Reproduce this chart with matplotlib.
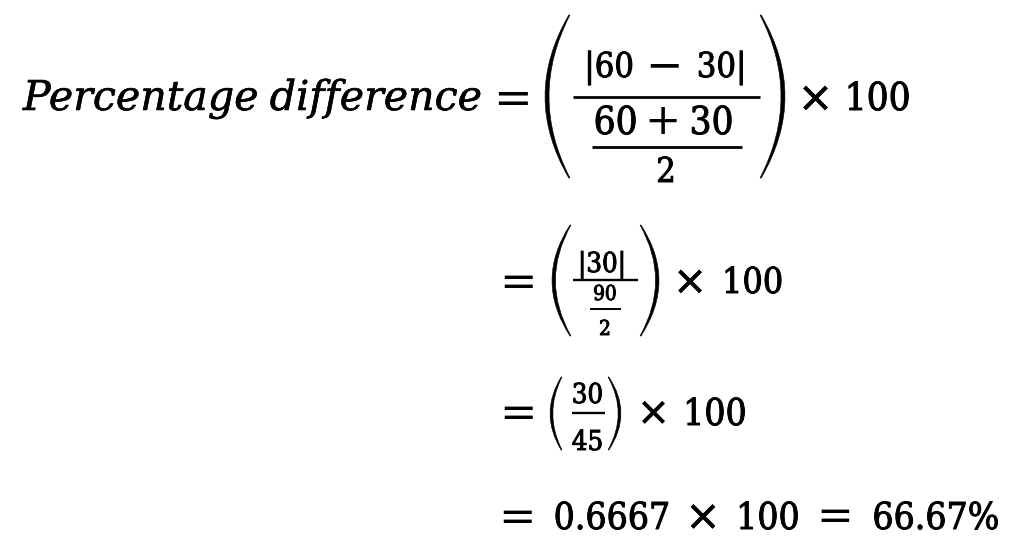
import matplotlib
matplotlib.use("Agg")
import matplotlib.pyplot as plt
from matplotlib.path import Path
from matplotlib.patches import PathPatch
from matplotlib import patheffects as pe

# ---- data (the worked example) ----
value_a = 60
value_b = 30
label_words = ["Percentage", "difference"]
abs_diff = "|30|"
sum_str = "90"
half_str = "45"
diff_str = "30"
ratio_str = "0.6667"
factor_str = "100"
result_str = "66.67%"

W, H = 1024, 557
FONT = "DejaVu Serif"
OPFONT = "DejaVu Sans"
fig = plt.figure(figsize=(W / 100, H / 100), dpi=100)
ax = fig.add_axes([0, 0, 1, 1])
ax.set_xlim(0, W)
ax.set_ylim(H, 0)
ax.axis("off")


def fs(px):
    """font size (pt) giving a digit height of px pixels"""
    return px / 0.729 * 0.72


def txt(x, y, s, h, ha="center", style="normal", stroke=0.7, stretch="condensed"):
    ax.text(x, y, s, fontsize=fs(h), family=FONT, ha=ha, va="baseline",
            style=style, color="black", fontstretch=stretch,
            path_effects=[pe.withStroke(linewidth=stroke, foreground="black")])


INK = {"=": 0.625, "\u2212": 0.625, "+": 0.625, "\u00d7": 0.59}


def op(x, yc, s, w, stroke=0.0):
    """operator sign centred at (x, yc), ink width w pixels"""
    em = w / INK[s]
    effects = [pe.withStroke(linewidth=stroke, foreground="black")] if stroke else []
    ax.text(x, yc + 0.335 * em, s, fontsize=em * 0.72, family=OPFONT,
            ha="center", va="baseline", color="black", path_effects=effects)


def bar(x0, x1, y, lw):
    ax.plot([x0, x1], [y, y], color="black", lw=lw, solid_capstyle="butt")


def paren(xl, xr, top, bot, t, e, side):
    ym = (top + bot) / 2
    if side == "L":
        oe, om = xr - e, xl
        ie, im = xr, xl + t
    else:
        oe, om = xl + e, xr
        ie, im = xl, xr - t
    co = 2 * om - oe
    ci = 2 * im - ie
    verts = [(oe, top), (co, ym), (oe, bot), (ie, bot), (ci, ym), (ie, top), (oe, top)]
    codes = [Path.MOVETO, Path.CURVE3, Path.CURVE3, Path.LINETO,
             Path.CURVE3, Path.CURVE3, Path.CLOSEPOLY]
    ax.add_patch(PathPatch(Path(verts, codes), facecolor="black", edgecolor="black", lw=0.4))


# ---- line 1 ----
txt(23, 110, label_words[0], 30, ha="left", style="italic", stroke=0.4, stretch="normal")
txt(482, 110, label_words[1], 30, ha="right", style="italic", stroke=0.4, stretch="normal")
op(512.5, 97, "=", 29)
paren(545, 570, 15, 178, 4.0, 1.2, "L")
txt(609, 77, f"|{value_a}", 25)
op(664, 64.5, "\u2212", 28)
txt(721.5, 77, f"{value_b}|", 25)
bar(573, 760, 97, 2.0)
txt(615.5, 134, f"{value_a}", 28)
op(662.5, 120, "+", 27)
txt(711.5, 134, f"{value_b}", 28)
bar(592, 742, 147, 2.0)
txt(666, 182, "2", 25)
paren(760, 785, 15, 178, 4.0, 1.2, "R")
op(815.5, 97, "\u00d7", 25, stroke=0.4)
txt(877.5, 110, factor_str, 28)

# ---- line 2 ----
op(518, 280.5, "=", 28)
paren(552, 571, 225, 336, 3.4, 1.0, "L")
txt(602, 272, abs_diff, 20)
bar(573, 638, 280, 1.7)
txt(605, 300, sum_str, 15)
bar(590, 621, 309, 1.4)
txt(605, 335, "2", 15)
paren(640, 659, 225, 336, 3.4, 1.0, "R")
op(690, 280.5, "\u00d7", 24, stroke=0.4)
txt(752.5, 293, factor_str, 26)

# ---- line 3 ----
op(518, 411.5, "=", 28)
paren(550, 562, 377, 450, 2.8, 0.9, "L")
txt(587.5, 403, diff_str, 20)
bar(572, 605, 413, 1.7)
txt(587.5, 450, half_str, 20)
paren(608, 621, 377, 450, 2.8, 0.9, "R")
op(653.5, 411.5, "\u00d7", 23, stroke=0.4)
txt(715, 425, factor_str, 27)

# ---- line 4 ----
op(517, 515.5, "=", 28)
txt(612, 529, ratio_str, 27)
op(703, 515.5, "\u00d7", 25, stroke=0.4)
txt(768, 529, factor_str, 27)
op(835, 515.5, "=", 27.5)
txt(936, 529, result_str, 27)

fig.savefig("out.png", dpi=100, facecolor="white")
